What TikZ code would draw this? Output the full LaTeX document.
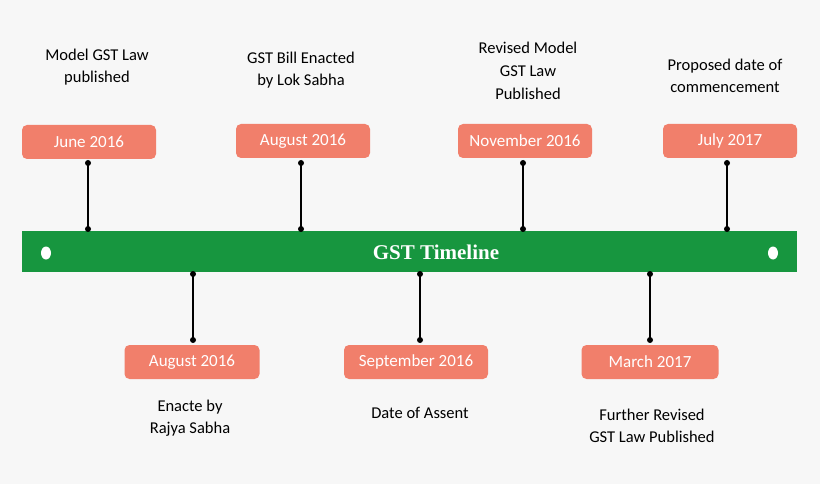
\documentclass[tikz,border=0pt]{standalone}
\usepackage{fontspec}
\usetikzlibrary{shapes.geometric}
\setmainfont{Carlito}
\newfontfamily\titlefont{Liberation Serif}
\definecolor{bg}{HTML}{F7F7F7}
\definecolor{barg}{HTML}{17963F}
\definecolor{sal}{HTML}{F17F6B}
\tikzset{
 datebox/.style={fill=sal,rounded corners=5pt,minimum height=34pt,text=white,font=\fontsize{17}{19}\selectfont,inner sep=0pt},
 lab/.style={align=center,font=\fontsize{16.5}{22}\selectfont,text=black},
 conn/.style={black,line width=1.4pt},
 endpt/.style={circle,fill=black,inner sep=0pt,minimum size=6pt},
 hole/.style={ellipse,fill=white,inner sep=0pt,minimum width=10pt,minimum height=13pt}
}
\begin{document}
\begin{tikzpicture}[x=1pt,y=-1pt]
\fill[bg] (0,0) rectangle (820,484);
\useasboundingbox (0,0) rectangle (820,484);
\node[fill=barg,minimum width=775pt,minimum height=41pt,inner sep=0pt] (bar) at (409.5,251.5) {};
\node[text=white,font=\titlefont\bfseries\fontsize{21}{23}\selectfont] (title) at (436,252) {GST Timeline};
\node[hole] (h1) at (46,253) {};
\node[hole] (h2) at (773,253) {};
% top
\node[datebox,minimum width=134pt] (t1) at (89,142) {June 2016};
\node[datebox,minimum width=134pt] (t2) at (303,141) {August 2016};
\node[datebox,minimum width=134pt] (t3) at (525,141) {November 2016};
\node[datebox,minimum width=134pt] (t4) at (730,141) {July 2017};
\node[lab] (l1) at (97,67) {Model GST Law\\published};
\node[lab] (l2) at (301,70) {GST Bill Enacted\\by Lok Sabha};
\node[lab,font=\fontsize{16.5}{23}\selectfont] (l3) at (528,71) {Revised Model\\GST Law\\Published};
\node[lab] (l4) at (725,76) {Proposed date of\\commencement};
\foreach \n/\x in {1/88,2/301,3/523,4/727}{
 \coordinate (a\n) at (\x,163);
 \coordinate (b\n) at (\x,229);
 \draw[conn] (a\n) -- (b\n);
 \node[endpt] at (a\n) {};
 \node[endpt] at (b\n) {};
}
% bottom
\node[datebox,minimum width=135pt] (d1) at (192,362) {August 2016};
\node[datebox,minimum width=144pt] (d2) at (416,362) {September 2016};
\node[datebox,minimum width=137pt] (d3) at (650,362) {March 2017};
\node[lab] (m1) at (190,418) {Enacte by\\Rajya Sabha};
\node[lab] (m2) at (420,413) {Date of Assent};
\node[lab] (m3) at (652,426) {Further Revised\\GST Law Published};
\foreach \n/\x in {1/193,2/420,3/650}{
 \coordinate (c\n) at (\x,274);
 \coordinate (e\n) at (\x,340);
 \draw[conn] (c\n) -- (e\n);
 \node[endpt] at (c\n) {};
 \node[endpt] at (e\n) {};
}
\end{tikzpicture}
\end{document}
